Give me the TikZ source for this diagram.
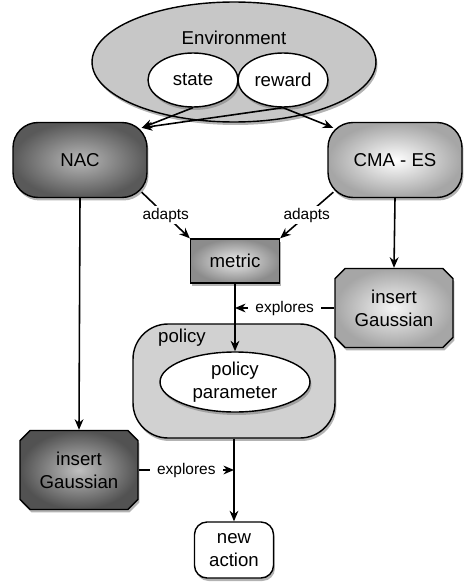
\documentclass[tikz,border=0pt]{standalone}
\usepackage{fontspec}
\setmainfont{Liberation Sans}
\usetikzlibrary{arrows.meta,positioning,shapes,shadows,calc}

\begin{document}
\begin{tikzpicture}[x=0.02cm, y=-0.02cm,
    every node/.style={font=\fontsize{10.6}{13}\selectfont, align=center},
    shadowed/.style={drop shadow={shadow xshift=0.03cm, shadow yshift=-0.06cm, opacity=0.6}},
    blob/.style={draw, thick, ellipse, inner sep=0pt, shadowed},
    box/.style={draw, thick, inner sep=0pt, shadowed},
    cutbox/.style={box, chamfered rectangle, chamfered rectangle xsep=0.1cm, chamfered rectangle ysep=0.1cm},
    lbl/.style={font=\fontsize{8.8}{10}\selectfont, fill=white, inner xsep=4pt, inner ysep=1pt},
    conn/.style={->, >={Stealth[length=6pt,width=5pt]}, line width=0.9pt}]
    \useasboundingbox (0,0) rectangle (474,588);
    % environment
    \node[blob, fill=black!22, minimum width=5.68cm, minimum height=2.4cm] (env) at (234,62) {};
    \node (envtxt) at (234,38) {Environment};
    \node[blob, fill=white, minimum width=1.8cm, minimum height=1.08cm] (state) at (193,80) {state};
    \node[blob, fill=white, minimum width=1.8cm, minimum height=1.08cm] (reward) at (283,80) {reward};
    % learners
    \node[box, rounded corners=0.5cm, outer color=black!65, inner color=black!28,
          minimum width=2.68cm, minimum height=1.5cm] (NAC) at (80,160) {NAC};
    \node[box, rounded corners=0.5cm, outer color=black!35, inner color=white,
          minimum width=2.68cm, minimum height=1.5cm] (CMA) at (395,160) {CMA - ES};
    \node[box, outer color=black!45, inner color=black!8,
          minimum width=1.78cm, minimum height=0.88cm] (metric) at (235,261) {metric};
    \node[cutbox, outer color=black!35, inner color=black!4,
          minimum width=2.36cm, minimum height=1.58cm] (igR) at (394,308) {insert\\Gaussian};
    \node[cutbox, outer color=black!68, inner color=black!25,
          minimum width=2.36cm, minimum height=1.58cm] (igL) at (79,470) {insert\\Gaussian};
    % policy
    \node[box, rounded corners=0.7cm, fill=black!18,
          minimum width=4.04cm, minimum height=2.28cm] (policy) at (234,381) {};
    \node (policytxt) at (182,338) {policy};
    \node[blob, fill=white, minimum width=3.0cm, minimum height=1.2cm] (pp) at (235,382) {policy\\parameter};
    \node[box, rounded corners=0.25cm, fill=white,
          minimum width=1.58cm, minimum height=1.12cm] (newact) at (234,550) {new\\action};
    % connectors
    \draw[conn] (state.south) -- ($(NAC.north east)+(-6,6)$);
    \draw[conn] (reward.south) -- ($(NAC.north east)+(-6,6)$);
    \draw[conn] (reward.south) -- ($(CMA.north west)+(6,6)$);
    \draw[conn] ($(NAC.south east)+(-6,-6)$) -- node[lbl] {adapts} (metric.north west);
    \draw[conn] ($(CMA.south west)+(6,-6)$) -- node[lbl] {adapts} (metric.north east);
    \draw[conn] (CMA.south) -- (igR.north);
    \draw[conn] (NAC.south) -- (igL.north);
    \draw[conn] (metric.south) -- (pp.north);
    \draw[conn] (policy.south) -- (newact.north);
    \draw[conn] (igR.west) -- node[lbl] {explores} (metric.south |- igR.west);
    \draw[conn] (igL.east) -- node[lbl] {explores} (newact.north |- igL.east);
\end{tikzpicture}
\end{document}
